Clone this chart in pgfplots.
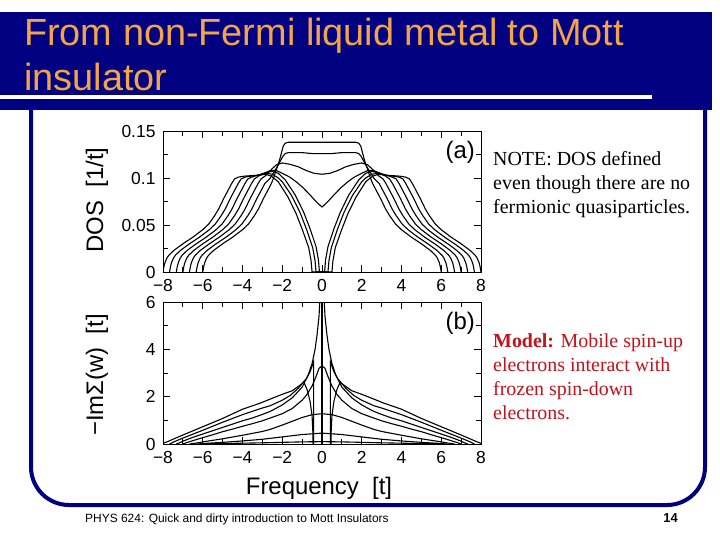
\documentclass[border=0pt]{standalone}
\usepackage{pgfplots}
\pgfplotsset{compat=1.18}
\usepackage{pgfplotstable}
\usepackage{fontspec}
\setmainfont{Liberation Sans}
\newfontfamily\serif{Liberation Serif}
\definecolor{navy}{RGB}{0,0,128}
\definecolor{titleorange}{RGB}{244,164,72}
\definecolor{notered}{RGB}{190,20,30}
\newcommand{\fs}[1]{\fontsize{#1}{#1}\selectfont}

% right halves (x >= 0) of the curves, mirrored when plotted
% (a) DOS
\pgfplotstableread{
x y
0 0.138
1.7 0.138
1.85 0.137
1.95 0.134
2.05 0.126
2.15 0.118
2.28 0.110
2.42 0.101
2.55 0.094
2.75 0.086
2.95 0.078
3.2 0.067
3.4 0.060
3.7 0.051
4.0 0.045
4.5 0.037
5.0 0.030
5.45 0.023
5.7 0.018
5.8 0.015
5.9 0.010
5.95 0.006
6.0 0
}\DA
\pgfplotstableread{
x y
0 0.126
0.5 0.126
1.0 0.127
1.7 0.127
1.85 0.126
1.97 0.123
2.1 0.118
2.25 0.112
2.4 0.107
2.6 0.100
2.88 0.094
3.08 0.086
3.28 0.078
3.53 0.067
3.73 0.060
4.03 0.051
4.33 0.045
4.83 0.037
5.33 0.030
5.78 0.023
6.03 0.018
6.13 0.015
6.23 0.010
6.28 0.006
6.33 0
}\DB
\pgfplotstableread{
x y
0 0.104
0.4 0.105
0.8 0.108
1.2 0.112
1.6 0.1145
2.0 0.116
2.3 0.114
2.6 0.108
2.87 0.102
3.07 0.099
3.22 0.094
3.42 0.086
3.62 0.078
3.87 0.067
4.07 0.060
4.37 0.051
4.67 0.045
5.17 0.037
5.67 0.030
6.12 0.023
6.37 0.018
6.47 0.015
6.57 0.010
6.62 0.006
6.67 0
}\DC
\pgfplotstableread{
x y
0 0.069
0.1 0.071
0.3 0.075
0.6 0.082
0.97 0.090
1.3 0.096
1.63 0.101
2.0 0.105
2.3 0.108
2.6 0.108
2.9 0.105
3.2 0.102
3.4 0.099
3.55 0.094
3.75 0.086
3.95 0.078
4.2 0.067
4.4 0.060
4.7 0.051
5.0 0.045
5.5 0.037
6.0 0.030
6.45 0.023
6.7 0.018
6.8 0.015
6.9 0.010
6.95 0.006
7.0 0
}\DD
\pgfplotstableread{
x y
0 0
0.13 0
0.18 0.013
0.3 0.027
0.6 0.046
0.93 0.064
1.35 0.082
1.85 0.098
2.2 0.105
2.5 0.107
2.8 0.106
3.23 0.103
3.53 0.101
3.73 0.099
3.88 0.094
4.08 0.086
4.28 0.078
4.53 0.067
4.73 0.060
5.03 0.051
5.33 0.045
5.83 0.037
6.33 0.030
6.78 0.023
7.03 0.018
7.13 0.015
7.23 0.010
7.28 0.006
7.33 0
}\DE
\pgfplotstableread{
x y
0 0
0.3 0
0.35 0.012
0.47 0.026
0.77 0.045
1.1 0.063
1.52 0.081
2.0 0.096
2.2 0.100
2.5 0.104
2.8 0.105
3.2 0.103
3.57 0.102
3.87 0.101
4.07 0.099
4.22 0.094
4.42 0.086
4.62 0.078
4.87 0.067
5.07 0.060
5.37 0.051
5.67 0.045
6.17 0.037
6.67 0.030
7.12 0.023
7.37 0.018
7.47 0.015
7.57 0.010
7.62 0.006
7.67 0
}\DF
\pgfplotstableread{
x y
0 0
0.5 0
0.55 0.012
0.67 0.026
0.97 0.044
1.3 0.062
1.72 0.080
2.2 0.096
2.55 0.102
2.85 0.104
3.2 0.103
3.9 0.102
4.2 0.101
4.4 0.099
4.55 0.094
4.75 0.086
4.95 0.078
5.2 0.067
5.4 0.060
5.7 0.051
6.0 0.045
6.5 0.037
7.0 0.030
7.45 0.023
7.7 0.018
7.8 0.015
7.9 0.010
7.95 0.006
8.0 0
}\DG

% (b) -Im Sigma
\pgfplotstableread{
x y
0 0.1
1 0.09
2 0.07
3 0.05
4 0.035
5 0.02
5.8 0.01
6 0
}\SA
\pgfplotstableread{
x y
0 0.46
1 0.40
2 0.30
2.6 0.24
3 0.20
4 0.13
5 0.07
5.8 0.03
6.3 0
}\SB
\pgfplotstableread{
x y
0 1.28
0.5 1.24
1 1.12
1.5 0.96
2 0.80
2.6 0.62
3 0.53
4 0.37
5 0.22
6 0.09
6.4 0.03
6.67 0
}\SC
\pgfplotstableread{
x y
0 3.3
0.15 3.2
0.3 2.85
0.5 2.45
0.75 2.1
1.0 1.85
1.5 1.5
2.0 1.28
2.6 1.1
3.0 0.98
3.5 0.86
4.0 0.75
4.5 0.63
5.0 0.52
5.5 0.39
6.0 0.27
6.5 0.14
6.8 0.06
7.0 0
}\SD
\pgfplotstableread{
x y
0 9
0.1 6.2
0.15 5.4
0.25 4.6
0.35 4.0
0.5 3.4
0.7 2.9
1.0 2.4
1.5 1.95
2.0 1.65
2.6 1.38
3.0 1.25
3.5 1.1
4.0 0.98
5.0 0.70
6.0 0.42
6.5 0.28
7.0 0.12
7.2 0.04
7.33 0
}\SE
\pgfplotstableread{
x y
0.45 0
0.46 0.5
0.5 1.2
0.6 1.8
0.75 2.3
0.92 2.63
1.2 2.35
1.6 2.05
2.0 1.85
2.6 1.62
3.0 1.52
3.5 1.38
4.0 1.24
5.0 0.92
6.0 0.58
7.0 0.25
7.4 0.11
7.67 0
}\SF
\pgfplotstableread{
x y
0.42 0
0.42 3.48
0.6 3.05
0.8 2.75
1.0 2.55
1.5 2.25
2.0 2.1
2.6 1.9
3.1 1.73
4.0 1.47
5.0 1.08
6.0 0.73
7.0 0.38
7.5 0.2
7.8 0.09
8.0 0.03
}\SG

\tikzset{crv/.style={black, line width=1.1bp}}
\newcommand{\both}[1]{%
  \addplot[crv] table[x=x, y=y] {#1};
  \addplot[crv] table[x expr=-\thisrow{x}, y=y] {#1};
}

\pgfplotsset{panel/.style={
  scale only axis, width=318bp,
  xmin=-8, xmax=8,
  xtick={-8,-6,...,8},
  minor x tick num=1, minor y tick num=1,
  tick align=inside,
  xtick pos=both, ytick pos=both,
  xticklabel pos=lower, yticklabel pos=left,
  major tick length=7bp, minor tick length=5bp,
  axis line style={line width=1bp},
  every tick/.style={black, line width=0.9bp},
  tick label style={font=\fs{17.5}},
  xticklabel style={yshift=-4bp},
  yticklabel style={xshift=-4bp},
}}

\begin{document}
\begin{tikzpicture}
\begin{scope}[x=1bp, y=-1bp]
  \path[use as bounding box, fill=white] (0,0) rectangle (720,540);
  \fill[navy] (0,12) rectangle (712,110);
  \fill[white] (0,95) rectangle (652,99);
  \draw[navy, line width=4bp, rounded corners=38bp]
    (31,108) -- (31,505) -- (705,505) -- (705,108);
  \node[anchor=base west, inner sep=0, font=\fs{38}, text=titleorange]
    at (24,46) {From non-Fermi liquid metal to Mott};
  \node[anchor=base west, inner sep=0, font=\fs{38}, text=titleorange]
    at (24,91) {insulator};

  \node[anchor=base west, inner sep=0, font=\serif\fs{20}] at (493,166) {NOTE: DOS defined};
  \node[anchor=base west, inner sep=0, font=\serif\fs{20}] at (493,190) {even though there are no};
  \node[anchor=base west, inner sep=0, font=\serif\fs{20}] at (493,214) {fermionic quasiparticles.};
  \node[anchor=base west, inner sep=0, font=\serif\fs{20}, text=notered] at (493,347) {\bfseries Model:\mdseries{} Mobile spin-up};
  \node[anchor=base west, inner sep=0, font=\serif\fs{20}, text=notered] at (493,371) {electrons interact with};
  \node[anchor=base west, inner sep=0, font=\serif\fs{20}, text=notered] at (493,395) {frozen spin-down};
  \node[anchor=base west, inner sep=0, font=\serif\fs{20}, text=notered] at (493,419) {electrons.};

  \node[anchor=base west, inner sep=0, font=\fs{12}] at (85,522) {PHYS 624: Quick and dirty introduction to Mott Insulators};
  \node[anchor=base east, inner sep=0, font=\bfseries\fs{13}] at (678,522) {14};

  \node[rotate=90, font=\fs{24}] at (97,200) {DOS\ \ [1/t]};
  \node[rotate=90, font=\fs{24}] at (97,375) {−ImΣ(w)\ \ [t]};
  \node[font=\fs{24}] at (319,488) {Frequency\ \ [t]};
\end{scope}

\begin{axis}[panel, at={(163bp,-272bp)}, anchor=south west, height=141bp,
  ymin=0, ymax=0.15,
  xticklabels={−8,−6,−4,−2,0,2,4,6,8},
  ytick={0,0.05,0.1,0.15}, yticklabels={0,0.05,0.1,0.15}]
  \both{\DA}
  \both{\DB}
  \both{\DC}
  \both{\DD}
  \both{\DE}
  \both{\DF}
  \both{\DG}
  \node[font=\fs{24}] at (rel axis cs:0.935,0.85) {(a)};
\end{axis}

\begin{axis}[panel, at={(163bp,-444bp)}, anchor=south west, height=142bp,
  ymin=0, ymax=6,
  xticklabels={−8,−6,−4,−2,0,2,4,6,8},
  ytick={0,2,4,6}, yticklabels={0,2,4,6}]
  \both{\SA}
  \both{\SB}
  \both{\SC}
  \both{\SD}
  \both{\SE}
  \both{\SF}
  \both{\SG}
  \addplot[crv] coordinates {(0,0) (0,7)};
  \node[font=\fs{24}] at (rel axis cs:0.935,0.85) {(b)};
\end{axis}
\end{tikzpicture}
\end{document}
